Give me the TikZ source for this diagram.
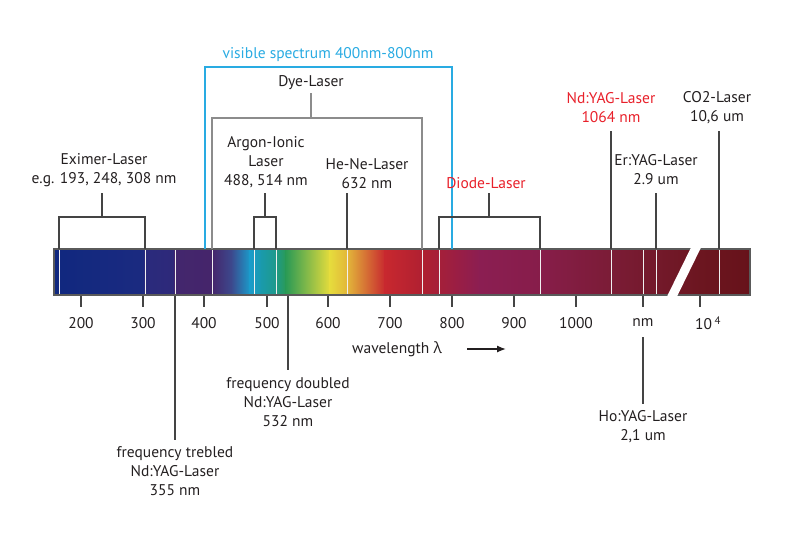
\documentclass[tikz,border=0pt]{standalone}
\usepackage{fontspec}
\setmainfont{PT Sans}
\newfontfamily\grk{Open Sans}
\usetikzlibrary{arrows.meta}
\definecolor{txt}{HTML}{231F20}
\definecolor{lgray}{HTML}{444444}
\definecolor{dgray}{HTML}{8C8C8C}
\definecolor{vblue}{HTML}{29ABE2}
\definecolor{lred}{HTML}{E8202A}
\definecolor{bord}{HTML}{5A5A5A}
\begin{document}
\begin{tikzpicture}[x=1pt,y=-1pt,
  lbl/.style={font=\fontsize{15.5}{18.8}\selectfont, align=center, inner sep=0pt, text=txt},
  redlbl/.style={lbl, text=lred},
  ln/.style={draw=lgray, line width=1.3pt},
  dyeln/.style={draw=dgray, line width=1.3pt},
  visln/.style={draw=vblue, line width=1.2pt},
  wline/.style={draw=white!88!gray, line width=1pt}]
\useasboundingbox (0,0) rectangle (800,533);
% spectrum bar
\foreach \xa/\ca/\xb/\cb in {
  54/10287F/145/1B2A80, 145/2A2A7C/175/2E297A, 175/43266D/212/45256B,
  212/45256B/232/3C4A8E, 232/3C4A8E/250/1A9CCB, 250/1A9CCB/262/1A9AAA,
  262/1A9AAA/276/1F9A8A, 276/1F9A8A/286/2A9A55, 286/2A9A55/330/E6DC3C,
  330/E6DC3C/348/E2B43A, 348/E2B43A/385/C8282F, 385/C8282F/425/AE1F31,
  425/AE1F31/480/8B1E52, 480/8B1E52/540/871D4A, 540/871D4A/611/7B1C36,
  611/7B1C36/700/6C1620, 700/6C1620/750/67121A}{
  \definecolor{ca}{HTML}{\ca}\definecolor{cb}{HTML}{\cb}
  \fill[left color=ca, right color=cb] (\xa-0.4,249) rectangle (\xb+0.4,295);
}
\foreach \x in {59,145,175,212,254,276,347,422,439,540,611,643,656,719}
  \draw[wline] (\x,249.6) -- (\x,294.4);
\draw[draw=bord, line width=1.2pt] (54,249) rectangle (750,295);
\fill[white] (667,296.5) -- (677,296.5) -- (701,247.5) -- (691,247.5) -- cycle;

% coordinates on the bar top
\foreach \n/\x in {ex1/59,ex2/145,dy1/212,ar1/254,ar2/276,hn/347,dy2/422,di1/439,di2/540,nd/611,er/656,co/719,vi1/205,vi2/452}
  \coordinate (\n) at (\x,249);

% visible spectrum
\node[lbl, text=vblue] (vis) at (328,55) {visible spectrum 400nm-800nm};
\draw[visln] (vi1) -- (205,67) -- (452,67) -- (vi2);

% dye laser
\node[lbl] (dye) at (311,83) {Dye-Laser};
\draw[dyeln] (dy1) -- (212,118) -- (422,118) -- (dy2);
\draw[dyeln] (311,118) -- (311,93);

% eximer
\node[lbl] (exi) at (104,170) {Eximer-Laser\\e.g. 193, 248, 308 nm};
\draw[ln] (ex1) -- (59,217) -- (145,217) -- (ex2);
\draw[ln] (102,217) -- (102,193);

% argon
\node[lbl] (arg) at (266,162) {Argon-Ionic\\Laser\\488, 514 nm};
\draw[ln] (ar1) -- (254,217) -- (276,217) -- (ar2);
\draw[ln] (265,217) -- (265,193);

% He-Ne
\node[lbl] (hene) at (367,173.5) {He-Ne-Laser\\632 nm};
\draw[ln] (hn) -- (347,193);

% diode
\node[redlbl] (dio) at (486,183) {Diode-Laser};
\draw[ln] (di1) -- (439,217) -- (540,217) -- (di2);
\draw[ln] (489,217) -- (489,193);

% Nd:YAG
\node[redlbl] (ndy) at (611,107.5) {Nd:YAG-Laser\\1064 nm};
\draw[ln] (nd) -- (611,131);

% Er:YAG
\node[lbl] (ery) at (656,169.5) {Er:YAG-Laser\\2.9 um};
\draw[ln] (er) -- (656,193);

% CO2
\node[lbl] (co2) at (717,107.5) {CO2-Laser\\10,6 um};
\draw[ln] (co) -- (719,131);

% ticks and scale labels
\foreach \n/\x/\t in {t200/81/200,t300/143/300,t400/204/400,t500/267/500,t600/328/600,t700/390/700,t800/452/800,t900/514/900,t1000/576/1000,tnm/643/nm}{
  \node[lbl] (\n) at (\x,323) {\t};
  \draw[ln] (\x,295.6) -- (\x,307);
}
\node[lbl, anchor=west] (t4) at (695,323) {10\,\textsuperscript{4}};
\draw[ln] (700,295.6) -- (700,307);

% wavelength
\node[lbl] (wl) at (397,349) {wavelength {\grk λ}};
\coordinate (wa1) at (467,349);
\coordinate (wa2) at (506,349);
\draw[draw=txt, line width=1.3pt, -{Latex[length=9pt,width=7pt]}] (wa1) -- (wa2);

% frequency trebled
\node[lbl] (tre) at (175,471) {frequency trebled\\Nd:YAG-Laser\\355 nm};
\draw[ln] (175,295.6) -- (175,440);

% frequency doubled
\node[lbl] (dou) at (288,402) {frequency doubled\\Nd:YAG-Laser\\532 nm};
\draw[ln] (288,295.6) -- (288,370);

% Ho:YAG
\node[lbl] (ho) at (643,426.5) {Ho:YAG-Laser\\2,1 um};
\draw[ln] (643,337) -- (643,404);
\end{tikzpicture}
\end{document}
